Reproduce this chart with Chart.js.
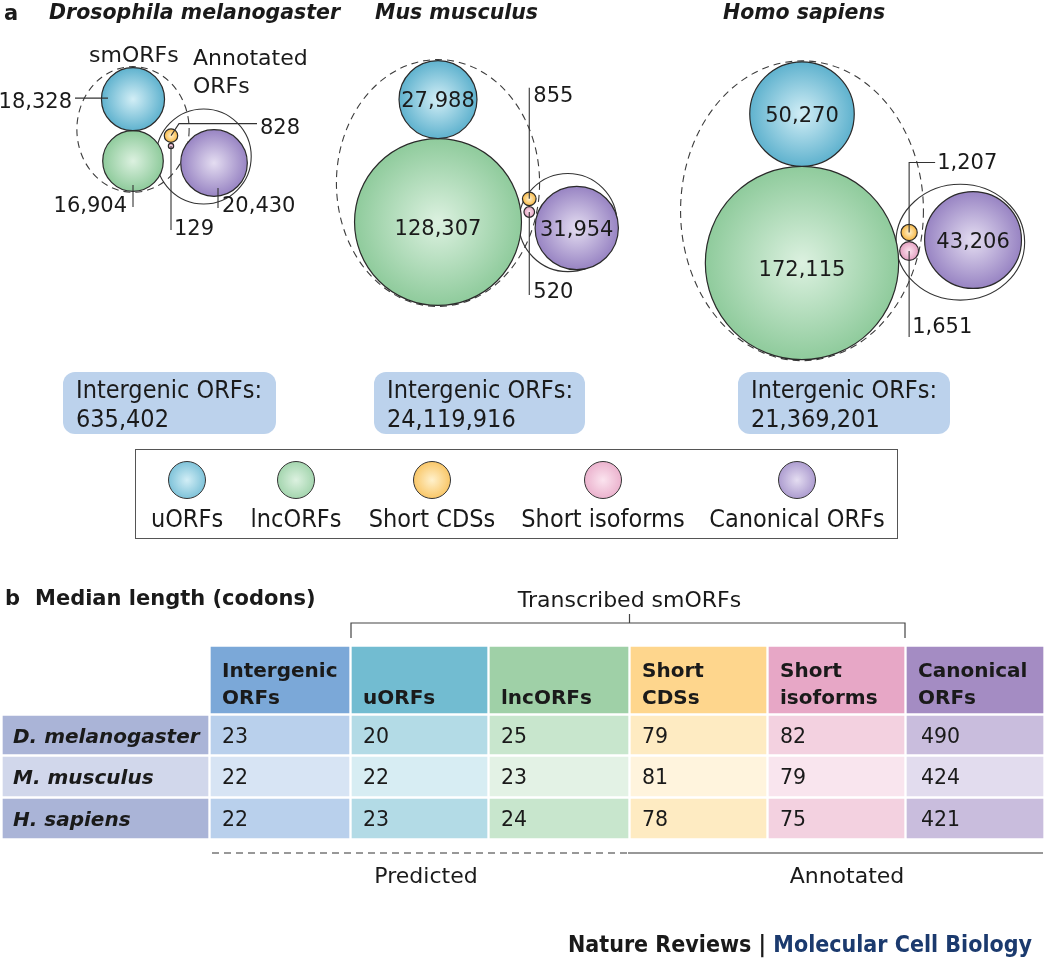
<!DOCTYPE html>
<html>
<head>
<meta charset="utf-8">
<title>smORF classes and median lengths</title>
<script src="https://cdn.jsdelivr.net/npm/chart.js@4.4.1/dist/chart.umd.min.js"></script>
<style>
  html, body { margin: 0; padding: 0; background: #fff; }
  #page { position: relative; width: 1050px; height: 964px; overflow: hidden;
          font-family: "DejaVu Sans", sans-serif; color: #1a1a1a; }
  #page canvas { position: absolute; left: 0; top: 0; }
  .t { position: absolute; white-space: nowrap; }
  .b { font-weight: bold; }
  .bi { font-weight: bold; font-style: italic; }
  .cond { font-family: "DejaVu Sans Condensed", "DejaVu Sans", sans-serif; font-stretch: condensed; }
  .ibox { position: absolute; background: #bcd2ec; border-radius: 12px; }
  .lbox { position: absolute; border: 1.5px solid #555; box-sizing: border-box; }
  .dot { position: absolute; border-radius: 50%; border: 1.3px solid #333; box-sizing: border-box; }
</style>
</head>
<body>
<div id="page">
  <canvas id="bubbles" width="1050" height="964"></canvas>
  <canvas id="table" width="1050" height="964"></canvas>
</div>
<script>
/* ================================================================
   DATA
   ================================================================ */
const SPECIES = ["Drosophila melanogaster", "Mus musculus", "Homo sapiens"];
const ORF_CLASSES = ["uORFs", "lncORFs", "Short CDSs", "Short isoforms", "Canonical ORFs"];

const UORF_COUNTS = [18328, 27988, 50270];
const LNCORF_COUNTS = [16904, 128307, 172115];
const SHORT_CDS_COUNTS = [828, 855, 1207];
const SHORT_ISO_COUNTS = [129, 520, 1651];
const CANONICAL_COUNTS = [20430, 31954, 43206];
const INTERGENIC_COUNTS = [635402, 24119916, 21369201];

const TABLE_ROWS = ["D. melanogaster", "M. musculus", "H. sapiens"];
const TABLE_COLS = [["Intergenic", "ORFs"], ["uORFs"], ["lncORFs"], ["Short", "CDSs"], ["Short", "isoforms"], ["Canonical", "ORFs"]];
const MEDIAN_DMEL = [23, 20, 25, 79, 82, 490];
const MEDIAN_MMUS = [22, 22, 23, 81, 79, 424];
const MEDIAN_HSAP = [22, 23, 24, 78, 75, 421];

/* ================================================================
   LAYOUT + STYLE (page pixels)
   ================================================================ */
const PAGE_W = 1050, PAGE_H = 964;
const R_PER_SQRT = 0.233;   // bubble radius per sqrt(count), area-proportional

// lncORF centre per species, plus small nudges for the annotated group
const SPECIES_ANCHOR = [
  { x: 133, y: 161, pinkDy: -15, canDy: 2, gap: 3, envPad: 2, envAspect: 1 },
  { x: 438, y: 222, pinkDy: -10, canDy: 6, gap: -1, envPad: -3, envAspect: 1 },
  { x: 802, y: 263, pinkDy: -12, canDy: -23, gap: 6, envPad: 3, envAspect: 0.9 }
];

// label placement relative to each circle centre
const LEADERS = [
  { u: { pts: [[-25, -1], [-58, -1]], text: [-61, 8.5], align: "right" },
    l: { pts: [[0, 24], [0, 46]], text: [-6, 50.5], align: "right" },
    c: { pts: [[4, 25], [4, 45]], text: [8, 48.5], align: "left" },
    y: { pts: [[0, 0], [8, -12], [86, -12]], text: [89, -1.5], align: "left" },
    p: { pts: [[0, 0], [0, 84]], text: [3, 88.5], align: "left" } },
  { u: { inside: 0 }, l: { inside: 5 }, c: { inside: 0 },
    y: { pts: [[0, 0], [0, -111]], text: [4, -96.4], align: "left" },
    p: { pts: [[0, 0], [0, 83]], text: [4, 85.5], align: "left" } },
  { u: { inside: 0 }, l: { inside: 5 }, c: { inside: 0 },
    y: { pts: [[0, 0], [0, -70], [26, -70]], text: [28, -63], align: "left" },
    p: { pts: [[0, 0], [0, 86]], text: [3, 81.5], align: "left" } }
];

const FILLS = [
  ["#d2eef6", "#5fb2ce"],
  ["#dcf1e0", "#8fcb9c"],
  ["#fff1cc", "#f7b743"],
  ["#fbe4ef", "#e5a0c1"],
  ["#e4ddf1", "#9884c3"]
];

const COL_L = [3, 211, 352, 490, 631, 769, 907];
const COL_R = [208, 349, 487, 628, 766, 904, 1043];
const ROW_TOP = [647, 716, 757, 799];
const ROW_BOT = [713, 754, 796, 838];

const HEADER_COLORS = ["#7ba8d8", "#72bcd1", "#9fd0a7", "#fed68d", "#e7a7c6", "#a48cc3"];
const ROW_HEAD_COLORS = ["#aab4d7", "#d1d7eb", "#aab4d7"];
const CELL_DARK = ["#b9d0ec", "#b3dbe6", "#c8e6cd", "#feebc2", "#f3d1e0", "#c9bddd"];
const CELL_LIGHT = ["#d7e4f4", "#d7edf3", "#e3f2e5", "#fff4dd", "#f9e5ee", "#e2dcee"];

const FONT = "'DejaVu Sans', sans-serif";
const fmt = n => n.toLocaleString("en-US");
const rad = n => R_PER_SQRT * Math.sqrt(n);

/* ================================================================
   BUBBLE PLACEMENT (computed from the counts)
   ================================================================ */
const KEYS = ["u", "l", "y", "p", "c"];
const COUNTS = [UORF_COUNTS, LNCORF_COUNTS, SHORT_CDS_COUNTS, SHORT_ISO_COUNTS, CANONICAL_COUNTS];

const placed = SPECIES.map((name, i) => {
  const a = SPECIES_ANCHOR[i];
  const r = {};
  KEYS.forEach((k, j) => { r[k] = rad(COUNTS[j][i]); });
  const rs = Math.max(r.y, r.p);
  const sx = a.x + r.l + rs + 1;
  const py = a.y + a.pinkDy;
  return {
    u: { x: a.x, y: a.y - r.l - r.u, r: r.u, n: UORF_COUNTS[i] },
    l: { x: a.x, y: a.y, r: r.l, n: LNCORF_COUNTS[i] },
    y: { x: sx, y: py - r.p - r.y - 1, r: r.y, n: SHORT_CDS_COUNTS[i] },
    p: { x: sx, y: py, r: r.p, n: SHORT_ISO_COUNTS[i] },
    c: { x: sx + rs + a.gap + r.c, y: a.y + a.canDy, r: r.c, n: CANONICAL_COUNTS[i] }
  };
});

function radialFill(inner, outer) {
  return function (ctx) {
    const raw = ctx.raw;
    const chart = ctx.chart;
    if (!raw || !chart.scales || !chart.scales.x || !chart.scales.y) return outer;
    const x = chart.scales.x.getPixelForValue(raw.x);
    const y = chart.scales.y.getPixelForValue(raw.y);
    if (!isFinite(x) || !isFinite(y) || !(raw.r > 0)) return outer;
    const g = chart.ctx.createRadialGradient(x, y, 0, x, y, raw.r);
    g.addColorStop(0, inner);
    g.addColorStop(1, outer);
    return g;
  };
}

function enclosing(a, b) {
  const dx = b.x - a.x, dy = b.y - a.y, d = Math.hypot(dx, dy);
  const R = (d + a.r + b.r) / 2;
  const t = (R - a.r) / d;
  return { x: a.x + dx * t, y: a.y + dy * t, r: R };
}

// dashed smORF ellipse + solid annotated-ORF outline
const envelopePlugin = {
  id: "envelopes",
  beforeDatasetsDraw(chart) {
    const { ctx, scales: { x, y } } = chart;
    ctx.save();
    ctx.lineWidth = 1.1;
    placed.forEach((P, i) => {
      const a = SPECIES_ANCHOR[i];
      const top = y.getPixelForValue(P.u.y) - P.u.r - 1;
      const bottom = y.getPixelForValue(P.l.y) + P.l.r + 1;
      const ry = (bottom - top) / 2;
      ctx.strokeStyle = "#3c3c3c";
      ctx.setLineDash([7, 5]);
      ctx.beginPath();
      ctx.ellipse(x.getPixelForValue(P.l.x), top + ry, ry * 0.75 + 9, ry, 0, 0, Math.PI * 2);
      ctx.stroke();

      const e1 = enclosing(P.y, P.c), e2 = enclosing(P.p, P.c);
      const e = e1.r > e2.r ? e1 : e2;
      const R = e.r + a.envPad;
      ctx.setLineDash([]);
      ctx.strokeStyle = "#333";
      ctx.beginPath();
      ctx.ellipse(x.getPixelForValue(e.x), y.getPixelForValue(e.y), R, R * a.envAspect, 0, 0, Math.PI * 2);
      ctx.stroke();
    });
    ctx.restore();
  }
};

const leaderPlugin = {
  id: "leaders",
  afterDatasetsDraw(chart) {
    const { ctx, scales: { x, y } } = chart;
    ctx.save();
    ctx.font = "21px " + FONT;
    ctx.fillStyle = "#1a1a1a";
    ctx.strokeStyle = "#333";
    ctx.lineWidth = 1.1;
    placed.forEach((P, i) => {
      KEYS.forEach(k => {
        const pt = P[k], spec = LEADERS[i][k];
        const cx = x.getPixelForValue(pt.x), cy = y.getPixelForValue(pt.y);
        if (spec.inside !== undefined) {
          ctx.textAlign = "center";
          ctx.fillText(fmt(pt.n), cx, cy + 7.5 + spec.inside);
          return;
        }
        ctx.beginPath();
        spec.pts.forEach((d, m) => {
          if (m === 0) ctx.moveTo(cx + d[0], cy + d[1]);
          else ctx.lineTo(cx + d[0], cy + d[1]);
        });
        ctx.stroke();
        ctx.textAlign = spec.align;
        ctx.fillText(fmt(pt.n), cx + spec.text[0], cy + spec.text[1]);
      });
    });
    ctx.restore();
  }
};

new Chart(document.getElementById("bubbles"), {
  type: "bubble",
  data: {
    datasets: KEYS.map((k, j) => ({
      label: ORF_CLASSES[j],
      data: placed.map(P => P[k]),
      backgroundColor: radialFill(FILLS[j][0], FILLS[j][1]),
      borderColor: "#2a2a2a",
      borderWidth: 1.2
    }))
  },
  options: {
    responsive: false,
    animation: false,
    events: [],
    layout: { padding: 0, autoPadding: false },
    plugins: { legend: { display: false }, tooltip: { enabled: false } },
    scales: {
      x: { type: "linear", min: 0, max: PAGE_W, display: false },
      y: { type: "linear", min: 0, max: PAGE_H, reverse: true, display: false }
    }
  },
  plugins: [envelopePlugin, leaderPlugin]
});

/* ================================================================
   TABLE (floating horizontal bars = cells)
   ================================================================ */
const MEDIANS = [MEDIAN_DMEL, MEDIAN_MMUS, MEDIAN_HSAP];
const rowMid = i => (ROW_TOP[i] + ROW_BOT[i]) / 2;

const tableSets = [{
  label: "header",
  data: TABLE_COLS.map((c, j) => ({ x: [COL_L[j + 1], COL_R[j + 1]], y: rowMid(0) })),
  backgroundColor: HEADER_COLORS,
  barThickness: ROW_BOT[0] - ROW_TOP[0]
}].concat(MEDIANS.map((vals, i) => ({
  label: TABLE_ROWS[i],
  data: [{ x: [COL_L[0], COL_R[0]], y: rowMid(i + 1) }]
    .concat(vals.map((v, j) => ({ x: [COL_L[j + 1], COL_R[j + 1]], y: rowMid(i + 1), v }))),
  backgroundColor: [ROW_HEAD_COLORS[i]].concat(i === 1 ? CELL_LIGHT : CELL_DARK),
  barThickness: ROW_BOT[i + 1] - ROW_TOP[i + 1]
})));

const tableTextPlugin = {
  id: "tableText",
  afterDatasetsDraw(chart) {
    const { ctx, scales: { x, y } } = chart;
    ctx.save();
    ctx.fillStyle = "#1a1a1a";
    ctx.textAlign = "left";

    // column headers, bottom aligned
    ctx.font = "bold 20px " + FONT;
    TABLE_COLS.forEach((lines, j) => {
      const tx = x.getPixelForValue(COL_L[j + 1]) + 11;
      const last = y.getPixelForValue(ROW_BOT[0]) - 9;
      lines.forEach((s, m) => ctx.fillText(s, tx, last - (lines.length - 1 - m) * 27));
    });

    // row headers + values
    MEDIANS.forEach((vals, i) => {
      const by = y.getPixelForValue(rowMid(i + 1)) + 7.5;
      ctx.font = "italic bold 20px " + FONT;
      ctx.fillText(TABLE_ROWS[i], x.getPixelForValue(COL_L[0]) + 10, by);
      ctx.font = "20.5px " + FONT;
      vals.forEach((v, j) => ctx.fillText(String(v), x.getPixelForValue(COL_L[j + 1]) + (j === 5 ? 14 : 11), by));
    });

    // "Transcribed smORFs" bracket
    ctx.strokeStyle = "#444";
    ctx.lineWidth = 1.2;
    const bl = x.getPixelForValue(COL_L[2]) - 1, br = x.getPixelForValue(COL_R[5]) + 1;
    const bm = (x.getPixelForValue(COL_R[3]) + x.getPixelForValue(COL_L[4])) / 2;
    const bt = y.getPixelForValue(ROW_TOP[0]);
    ctx.beginPath();
    ctx.moveTo(bl, bt - 9); ctx.lineTo(bl, bt - 24); ctx.lineTo(br, bt - 24); ctx.lineTo(br, bt - 9);
    ctx.moveTo(bm, bt - 24); ctx.lineTo(bm, bt - 33);
    ctx.stroke();

    // predicted / annotated rules
    const ly = y.getPixelForValue(ROW_BOT[3]) + 15;
    ctx.strokeStyle = "#333";
    ctx.beginPath();
    ctx.setLineDash([7, 5]);
    ctx.moveTo(x.getPixelForValue(COL_L[1]) + 1, ly); ctx.lineTo(x.getPixelForValue(COL_R[3]), ly);
    ctx.stroke();
    ctx.beginPath();
    ctx.setLineDash([]);
    ctx.moveTo(x.getPixelForValue(COL_R[3]), ly); ctx.lineTo(x.getPixelForValue(COL_R[6]), ly);
    ctx.stroke();
    ctx.restore();
  }
};

new Chart(document.getElementById("table"), {
  type: "bar",
  data: { datasets: tableSets },
  options: {
    indexAxis: "y",
    responsive: false,
    animation: false,
    events: [],
    layout: { padding: 0, autoPadding: false },
    datasets: { bar: { grouped: false, borderWidth: 0, borderSkipped: false } },
    plugins: { legend: { display: false }, tooltip: { enabled: false } },
    scales: {
      x: { type: "linear", min: 0, max: PAGE_W, offset: false, display: false },
      y: { type: "linear", min: 0, max: PAGE_H, reverse: true, offset: false, display: false }
    }
  },
  plugins: [tableTextPlugin]
});

/* ================================================================
   STATIC TEXT, BOXES, LEGEND
   ================================================================ */
const page = document.getElementById("page");

function addText(str, x, base, size, cls, align) {
  const d = document.createElement("div");
  d.className = "t " + (cls || "");
  d.innerHTML = str;
  d.style.fontSize = size + "px";
  d.style.lineHeight = (size * 1.164) + "px";
  d.style.top = (base - size * 0.928) + "px";
  d.style.left = x + "px";
  if (align === "right") d.style.transform = "translateX(-100%)";
  if (align === "center") d.style.transform = "translateX(-50%)";
  page.appendChild(d);
}

function addBox(cls, l, t, w, h) {
  const d = document.createElement("div");
  d.className = cls;
  Object.assign(d.style, { left: l + "px", top: t + "px", width: w + "px", height: h + "px" });
  page.appendChild(d);
  return d;
}

addText("a", 4, 20, 21, "b");
[49, 375, 723].forEach((tx, i) => addText(SPECIES[i], tx, 20, 20.5, "bi"));
addText("smORFs", 89, 62, 22);
addText("Annotated", 193, 65, 22);
addText("ORFs", 193, 93, 22);

// intergenic ORF boxes
[[63, 213], [374, 211], [738, 212]].forEach((b, i) => {
  addBox("ibox", b[0], 372, b[1], 62);
  addText("Intergenic ORFs:", b[0] + 13, 398, 25, "cond");
  addText(fmt(INTERGENIC_COUNTS[i]), b[0] + 13, 427, 25, "cond");
});

// legend
addBox("lbox", 135, 449, 763, 90);
[187, 296, 432, 603, 797].forEach((cx, j) => {
  const dot = addBox("dot", cx - 19, 461, 38, 38);
  dot.style.background = "radial-gradient(circle at 50% 50%, " + FILLS[j][0] + " 0%, " + FILLS[j][1] + " 100%)";
  addText(ORF_CLASSES[j], cx, 527, 25, "cond", "center");
});

// panel b text
addText("b", 5, 605, 21, "b");
addText("Median length (codons)", 35, 605, 21, "b");
addText("Transcribed smORFs", 629.5, 607, 22, "", "center");
addText("Predicted", 426, 883, 22, "", "center");
addText("Annotated", 847, 883, 22, "", "center");
addText('Nature Reviews | <span style="color:#1b3a6e">Molecular Cell Biology</span>', 1032, 952, 23, "cond b", "right");
</script>
</body>
</html>
